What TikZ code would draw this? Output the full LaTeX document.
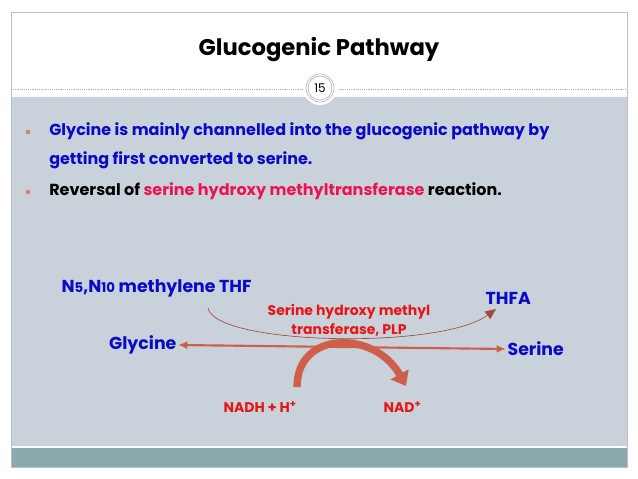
\documentclass[tikz,border=0pt]{standalone}
\usepackage{fontspec}
\setmainfont{Poppins}
\usetikzlibrary{arrows.meta}
\definecolor{bg}{RGB}{201,210,218}
\definecolor{band}{RGB}{137,170,172}
\definecolor{tblue}{RGB}{10,10,200}
\definecolor{tpink}{RGB}{235,20,80}
\definecolor{tred}{RGB}{235,20,20}
\definecolor{arr}{RGB}{205,95,75}
\tikzset{
  bul/.style={font=\bfseries\fontsize{12}{14}\selectfont,anchor=west,inner sep=0pt},
  lbl/.style={font=\bfseries\fontsize{13}{15}\selectfont,text=tblue,inner sep=1pt},
  rlbl/.style={font=\bfseries\fontsize{10.5}{14}\selectfont,text=tred,inner sep=1pt,align=center},
}
\begin{document}
\begin{tikzpicture}[x=0.75pt,y=-0.75pt]
\useasboundingbox (0,0) rectangle (638,478);
\fill[white] (0,0) rectangle (638,478);
\fill[bg] (11,97) rectangle (627,446);
\fill[band] (11,448) rectangle (627,467);
\draw[gray!50] (11,12) rectangle (627,467);
\draw[gray!60,densely dotted] (11,89) -- (627,89);
\fill[white] (320,88) circle (17);
\draw[gray!70] (320,88) circle (14);
\draw[gray!70] (320,88) circle (12);
\node (num) at (320,88) {\fontsize{9}{9}\selectfont 15};
\node (title) at (319,50) {\bfseries\fontsize{17}{20}\selectfont Glucogenic Pathway};
\fill[arr!80] (28,132) circle (2.3);
\fill[arr!80] (28,192) circle (2.3);
\node[bul,text=tblue] (b1) at (49,131) {Glycine is mainly channelled into the glucogenic pathway by};
\node[bul,text=tblue] (b1b) at (49,160) {getting first converted to serine.};
\node[bul] (b2) at (49,191) {Reversal of \textcolor{tpink}{serine hydroxy methyltransferase} reaction.};
\node[lbl,anchor=west] (thf) at (60,288) {N{\fontsize{10}{12}\selectfont 5},N{\fontsize{10}{12}\selectfont 10} methylene THF};
\node[lbl,anchor=west] (thfa) at (484,298) {THFA};
\node[lbl,anchor=east] (gly) at (178,345) {Glycine};
\node[lbl,anchor=west] (ser) at (506,349) {Serine};
\node[rlbl] (enz) at (349,320) {Serine hydroxy methyl\\transferase, PLP};
\node[rlbl,anchor=west] (nadh) at (222,407) {NADH + H\textsuperscript{+}};
\node[rlbl,anchor=west] (nad) at (382,407) {NAD\textsuperscript{+}};
\coordinate (ts) at (208,308);
\coordinate (te) at (496,309);
\draw[arr,line width=1.6pt,{Latex[length=7pt,width=6pt]}-{Latex[length=7pt,width=6pt]}] (gly.east) -- (ser.west);
\draw[arr!80!black,line width=0.5pt,-{Triangle[length=8pt,width=7pt]}] (ts) .. controls (215,345) and (440,350) .. (te);
\coordinate (ns) at (297,387);
\coordinate (ne) at (406,386);
\draw[arr,line width=5.5pt,-{Triangle[length=10pt,width=15pt]}] (ns) .. controls (297,330) and (375,330) .. (ne);
\end{tikzpicture}
\end{document}
